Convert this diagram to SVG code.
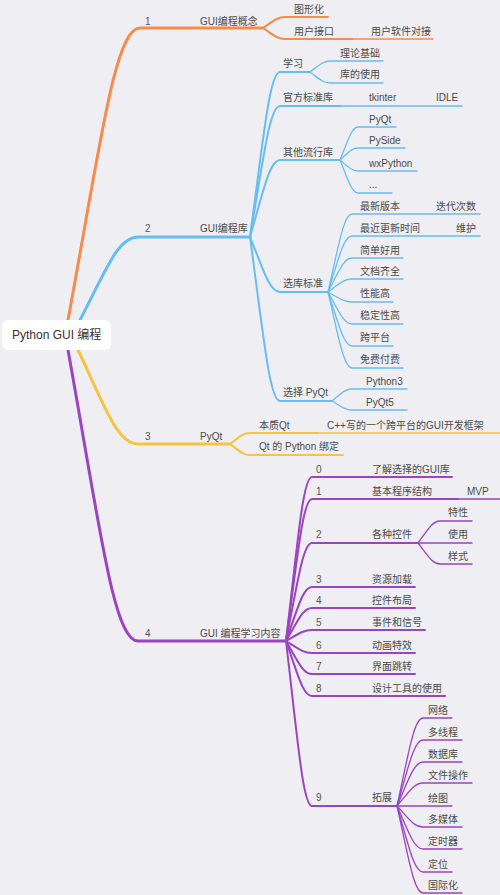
<svg xmlns="http://www.w3.org/2000/svg" width="500" height="895" viewBox="0 0 500 895">
<style>
.t{font-family:"Liberation Sans","Noto Sans CJK SC",sans-serif;font-size:10px;fill:#4a4a4a}
.r{font-size:12px;fill:#333}
.n{fill:#555}
path{fill:none;stroke-linecap:round}
.o{stroke:#F58B4C}
.b{stroke:#66BDF2}
.y{stroke:#F6C342}
.p{stroke:#9B44BF}
.w3{stroke-width:3}
.w2{stroke-width:2}
.w1{stroke-width:1.3}
</style>
<rect width="500" height="895" fill="#EFEFF3"/>
<g id="connectors">
<path class="o w3" d="M68,320 C100.4,144.8 114.8,28 140,28 L263,28"/>
<path class="o w2" d="M263,28 C272.9,21.4 277.3,17 285,17 L328,17"/>
<path class="o w2" d="M263,28 C272.9,34.6 277.3,39 285,39 L352,39"/>
<path class="o w1" d="M352,39 L433,39"/>

<path class="b w3" d="M80,320 C106.1,270.2 117.7,237 138,237 L250,237"/>
<path class="b w2" d="M250,237 C263.5,138 269.5,72 280,72 L310,72"/>
<path class="b w2" d="M250,237 C263.5,158.4 269.5,106 280,106 L340,106"/>
<path class="b w1" d="M340,106 L462,106"/>
<path class="b w2" d="M250,237 C263.5,190.8 269.5,160 280,160 L340,160"/>
<path class="b w2" d="M250,237 C263.5,270 269.5,292 280,292 L328,292"/>
<path class="b w2" d="M250,237 C263.5,335.4 269.5,401 280,401 L332,401"/>
<path class="b w1" d="M310,72 C319,65.4 323,61 330,61 L383,61"/>
<path class="b w1" d="M310,72 C319,78.6 323,83 330,83 L383,83"/>
<path class="b w1" d="M340,160 C348.1,140.2 351.7,127 358,127 L396,127"/>
<path class="b w1" d="M340,160 C348.1,152.8 351.7,148 358,148 L405,148"/>
<path class="b w1" d="M340,160 C348.1,166.6 351.7,171 358,171 L417,171"/>
<path class="b w1" d="M340,160 C348.1,179.8 351.7,193 358,193 L392,193"/>
<path class="b w1" d="M328,292 C338.8,245.2 343.6,214 352,214 L480,214"/>
<path class="b w1" d="M328,292 C338.8,258.4 343.6,236 352,236 L480,236"/>
<path class="b w1" d="M328,292 C338.8,271.6 343.6,258 352,258 L403,258"/>
<path class="b w1" d="M328,292 C338.8,284.2 343.6,279 352,279 L403,279"/>
<path class="b w1" d="M328,292 C338.8,298 343.6,302 352,302 L393,302"/>
<path class="b w1" d="M328,292 C338.8,311.2 343.6,324 352,324 L403,324"/>
<path class="b w1" d="M328,292 C338.8,324.4 343.6,346 352,346 L393,346"/>
<path class="b w1" d="M328,292 C338.8,337.6 343.6,368 352,368 L403,368"/>
<path class="b w1" d="M332,401 C341,393.8 345,389 352,389 L407,389"/>
<path class="b w1" d="M332,401 C341,406.4 345,410 352,410 L407,410"/>

<path class="y w3" d="M78,350 C105,406.4 117,444 138,444 L230,444"/>
<path class="y w2" d="M230,444 C239,437.4 243,433 250,433 L318,433"/>
<path class="y w1" d="M318,433 L500,433"/>
<path class="y w2" d="M230,444 C239,450.6 243,455 250,455 L343,455"/>

<path class="p w3" d="M68,350 C99.5,524.6 113.5,641 138,641 L286,641"/>
<path class="p w2" d="M286,641 C297.7,542.6 302.9,477 312,477 L452,477"/>
<path class="p w2" d="M286,641 C297.7,555.8 302.9,499 312,499 L458,499"/>
<path class="p w1" d="M458,499 L500,499"/>
<path class="p w2" d="M286,641 C297.7,582.2 302.9,543 312,543 L418,543"/>
<path class="p w2" d="M286,641 C297.7,608.6 302.9,587 312,587 L415,587"/>
<path class="p w2" d="M286,641 C297.7,621.2 302.9,608 312,608 L415,608"/>
<path class="p w2" d="M286,641 C297.7,634.4 302.9,630 312,630 L425,630"/>
<path class="p w2" d="M286,641 C297.7,648.2 302.9,653 312,653 L415,653"/>
<path class="p w2" d="M286,641 C297.7,660.8 302.9,674 312,674 L415,674"/>
<path class="p w2" d="M286,641 C297.7,674 302.9,696 312,696 L445,696"/>
<path class="p w2" d="M286,641 C297.7,740 302.9,806 312,806 L397,806"/>
<path class="p w1" d="M418,543 C427.9,529.8 432.3,521 440,521 L472,521"/>
<path class="p w1" d="M418,543 L472,543"/>
<path class="p w1" d="M418,543 C427.9,555.6 432.3,564 440,564 L472,564"/>
<path class="p w1" d="M397,806 C408.7,753.2 413.9,718 423,718 L452,718"/>
<path class="p w1" d="M397,806 C408.7,766.4 413.9,740 423,740 L462,740"/>
<path class="p w1" d="M397,806 C408.7,779.6 413.9,762 423,762 L462,762"/>
<path class="p w1" d="M397,806 C408.7,792.2 413.9,783 423,783 L472,783"/>
<path class="p w1" d="M397,806 L452,806"/>
<path class="p w1" d="M397,806 C408.7,818.6 413.9,827 423,827 L462,827"/>
<path class="p w1" d="M397,806 C408.7,831.8 413.9,849 423,849 L462,849"/>
<path class="p w1" d="M397,806 C408.7,845.6 413.9,872 423,872 L452,872"/>
<path class="p w1" d="M397,806 C408.7,858.2 413.9,893 423,893 L462,893"/>
</g>

<g id="root">
<rect x="2" y="320" width="109" height="30" rx="6" fill="#fff"/>
<text class="t r" x="12" y="339">Python GUI 编程</text>
</g>

<g id="n1"><text class="t n" x="145" y="25">1</text><text class="t" x="200" y="25">GUI编程概念</text></g>
<g id="n1-1"><text class="t" x="294" y="13">图形化</text></g>
<g id="n1-2"><text class="t" x="294" y="35">用户接口</text></g>
<g id="n1-2-1"><text class="t" x="371" y="35">用户软件对接</text></g>

<g id="n2"><text class="t n" x="145" y="232">2</text><text class="t" x="200" y="232">GUI编程库</text></g>
<g id="n2-1"><text class="t" x="283" y="67">学习</text></g>
<g id="n2-1-1"><text class="t" x="340" y="57">理论基础</text></g>
<g id="n2-1-2"><text class="t" x="340" y="78">库的使用</text></g>
<g id="n2-2"><text class="t" x="283" y="101">官方标准库</text></g>
<g id="n2-2-1"><text class="t" x="369" y="101">tkinter</text></g>
<g id="n2-2-1-1"><text class="t" x="436" y="101">IDLE</text></g>
<g id="n2-3"><text class="t" x="283" y="156">其他流行库</text></g>
<g id="n2-3-1"><text class="t" x="369" y="123">PyQt</text></g>
<g id="n2-3-2"><text class="t" x="369" y="144">PySide</text></g>
<g id="n2-3-3"><text class="t" x="369" y="167">wxPython</text></g>
<g id="n2-3-4"><text class="t" x="369" y="188">...</text></g>
<g id="n2-4"><text class="t" x="283" y="287">选库标准</text></g>
<g id="n2-4-1"><text class="t" x="360" y="210">最新版本</text><text class="t" x="436" y="210">迭代次数</text></g>
<g id="n2-4-2"><text class="t" x="360" y="232">最近更新时间</text><text class="t" x="456" y="232">维护</text></g>
<g id="n2-4-3"><text class="t" x="360" y="254">简单好用</text></g>
<g id="n2-4-4"><text class="t" x="360" y="275">文档齐全</text></g>
<g id="n2-4-5"><text class="t" x="360" y="297">性能高</text></g>
<g id="n2-4-6"><text class="t" x="360" y="319">稳定性高</text></g>
<g id="n2-4-7"><text class="t" x="360" y="341">跨平台</text></g>
<g id="n2-4-8"><text class="t" x="360" y="363">免费付费</text></g>
<g id="n2-5"><text class="t" x="283" y="396">选择 PyQt</text></g>
<g id="n2-5-1"><text class="t" x="366" y="385">Python3</text></g>
<g id="n2-5-2"><text class="t" x="366" y="406">PyQt5</text></g>

<g id="n3"><text class="t n" x="145" y="440">3</text><text class="t" x="200" y="440">PyQt</text></g>
<g id="n3-1"><text class="t" x="259" y="429">本质Qt</text><text class="t" x="327" y="429">C++写的一个跨平台的GUI开发框架</text></g>
<g id="n3-2"><text class="t" x="259" y="450">Qt 的 Python 绑定</text></g>

<g id="n4"><text class="t n" x="145" y="637">4</text><text class="t" x="200" y="637">GUI 编程学习内容</text></g>
<g id="n4-0"><text class="t n" x="316" y="473">0</text><text class="t" x="372" y="473">了解选择的GUI库</text></g>
<g id="n4-1"><text class="t n" x="316" y="495">1</text><text class="t" x="372" y="495">基本程序结构</text><text class="t" x="467" y="495">MVP</text></g>
<g id="n4-2"><text class="t n" x="316" y="538">2</text><text class="t" x="372" y="538">各种控件</text></g>
<g id="n4-2-1"><text class="t" x="448" y="516">特性</text></g>
<g id="n4-2-2"><text class="t" x="448" y="538">使用</text></g>
<g id="n4-2-3"><text class="t" x="448" y="560">样式</text></g>
<g id="n4-3"><text class="t n" x="316" y="583">3</text><text class="t" x="372" y="583">资源加载</text></g>
<g id="n4-4"><text class="t n" x="316" y="604">4</text><text class="t" x="372" y="604">控件布局</text></g>
<g id="n4-5"><text class="t n" x="316" y="626">5</text><text class="t" x="372" y="626">事件和信号</text></g>
<g id="n4-6"><text class="t n" x="316" y="649">6</text><text class="t" x="372" y="649">动画特效</text></g>
<g id="n4-7"><text class="t n" x="316" y="670">7</text><text class="t" x="372" y="670">界面跳转</text></g>
<g id="n4-8"><text class="t n" x="316" y="692">8</text><text class="t" x="372" y="692">设计工具的使用</text></g>
<g id="n4-9"><text class="t n" x="316" y="801">9</text><text class="t" x="372" y="801">拓展</text></g>
<g id="n4-9-1"><text class="t" x="428" y="714">网络</text></g>
<g id="n4-9-2"><text class="t" x="428" y="736">多线程</text></g>
<g id="n4-9-3"><text class="t" x="428" y="758">数据库</text></g>
<g id="n4-9-4"><text class="t" x="428" y="779">文件操作</text></g>
<g id="n4-9-5"><text class="t" x="428" y="802">绘图</text></g>
<g id="n4-9-6"><text class="t" x="428" y="823">多媒体</text></g>
<g id="n4-9-7"><text class="t" x="428" y="845">定时器</text></g>
<g id="n4-9-8"><text class="t" x="428" y="868">定位</text></g>
<g id="n4-9-9"><text class="t" x="428" y="889">国际化</text></g>
</svg>
